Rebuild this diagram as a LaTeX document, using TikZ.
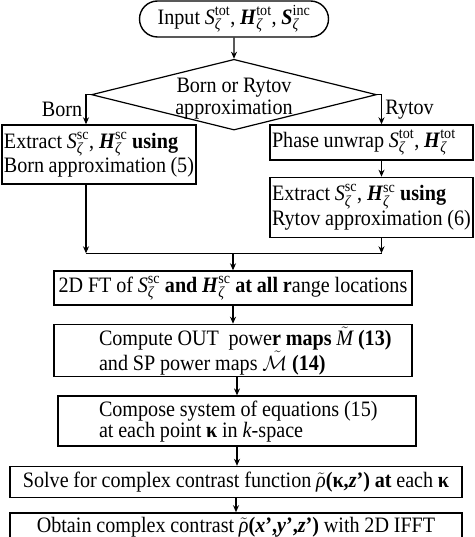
\documentclass[tikz,border=0pt]{standalone}
\usepackage{amsmath}
\usepackage{fontspec}
\setmainfont{Liberation Serif}[FakeStretch=0.915, WordSpace=0.95]
\usetikzlibrary{arrows.meta}
\usetikzlibrary{positioning}
\usetikzlibrary{shapes.geometric,shapes.misc}

\newcommand{\field}[2]{$#1^{\text{#2}}_{\text{\itshape ζ}}$}

\tikzset{
  box/.style={draw, rectangle, line width=1.4pt, inner sep=2pt},
  start/.style={draw, rounded rectangle, line width=1.4pt, inner sep=2pt,
    minimum width=193pt, minimum height=36pt},
  choice/.style={draw, diamond, aspect=4, line width=1.2pt, inner sep=0pt,
    minimum width=285pt, minimum height=70pt, align=center}
}

\begin{document}
\begin{tikzpicture}[->, >={Stealth[length=7pt,width=6pt]}, line width=1.1pt,
    x=1pt, y=1pt, font=\fontsize{22}{21}\selectfont]

    \useasboundingbox (0,0) rectangle (474,-537);

    % Nodes

    \node[start]                 (input)   at (234,-19)
        {Input \field{\textit{S}}{tot}, \field{\textbf{\textit{H}}}{tot}, \field{\textbf{\textit{S}}}{inc}} ; %
    \node[choice, below=21pt of input] (choice)
        {\raisebox{-4pt}[\height][\depth]{\shortstack{Born or Rytov\\approximation}}} ; %

    \node[box, text width=190pt, minimum height=59pt, align=flush left] (born) at (99,-154.5)
        {Extract \field{\textit{S}}{sc}, \field{\textbf{\textit{H}}}{sc} \textbf{using}\\Born approximation (5)} ; %
    \node[box, text width=199pt, minimum height=35pt, align=flush left] (phase) at (371.5,-142.5)
        {Phase unwrap \field{\textit{S}}{tot}, \field{\textbf{\textit{H}}}{tot}} ; %
    \node[box, text width=199pt, minimum height=60pt, align=flush left, below=16pt of phase] (rytov)
        {Extract \field{\textit{S}}{sc}, \field{\textbf{\textit{H}}}{sc} \textbf{using}\\Rytov approximation (6)} ; %

    \node[box, minimum width=358pt, minimum height=34pt] (ft) at (233,-288)
        {2D FT of \field{\textit{S}}{sc} \textbf{and} \field{\textbf{\textit{H}}}{sc} \textbf{at all r}ange locations} ; %
    \node[box, text width=354pt, minimum height=51pt, align=flush left, below=18pt of ft] (power)
        {\hspace*{43pt}Compute OUT\ \ powe\textbf{r maps} $\tilde{\textit{M}}$ \textbf{(13)}\\\hspace*{43pt}and SP power maps $\tilde{\mathcal{M}}$ \textbf{(14)}} ; %
    \node[box, text width=354pt, minimum height=50pt, align=flush left, below=18pt of power, xshift=4pt] (compose)
        {\hspace*{39pt}Compose system of equations (15)\\\hspace*{39pt}at each point \textbf{κ} in \textit{k}-space} ; %
    \node[box, minimum width=452pt, minimum height=31pt, below=19pt of compose, xshift=-1pt] (solve)
        {Solve for complex contrast function $\tilde{\text{\itshape ρ}}$\textbf{(κ,\textit{z}’)} \textbf{at} each \textbf{κ}} ; %
    \node[box, minimum width=452pt, minimum height=29pt, below=14pt of solve] (obtain)
        {Obtain complex contrast $\tilde{\text{\itshape ρ}}$\textbf{(\textit{x}’,\textit{y}’,\textit{z}’)} with 2D IFFT} ; %

    % Edges

    \draw (input) -- (choice);
    \draw (choice.west) -| node[pos=0.75, left] {Born} ([xshift=-13pt]born.north);
    \draw (choice.east) -| node[pos=0.75, right] {Rytov} ([xshift=10pt]phase.north);
    \draw ([xshift=10pt]phase.south) -- ([xshift=10pt]rytov.north);

    \coordinate (join) at ([yshift=17pt]ft.north);
    \draw ([xshift=-13pt]born.south) -- ([xshift=-13pt]born.south |- join);
    \draw ([xshift=10pt]rytov.south) -- ([xshift=10pt]rytov.south |- join);
    \draw[-] ([xshift=-13pt]born.south |- join) -- ([xshift=10pt]rytov.south |- join);
    \draw (join) -- (ft);

    \draw (ft) -- (power);
    \draw (power.south -| compose.north) -- (compose.north);
    \draw (compose) -- (solve.north -| compose.south);
    \draw (solve) -- (obtain);

\end{tikzpicture}
\end{document}
